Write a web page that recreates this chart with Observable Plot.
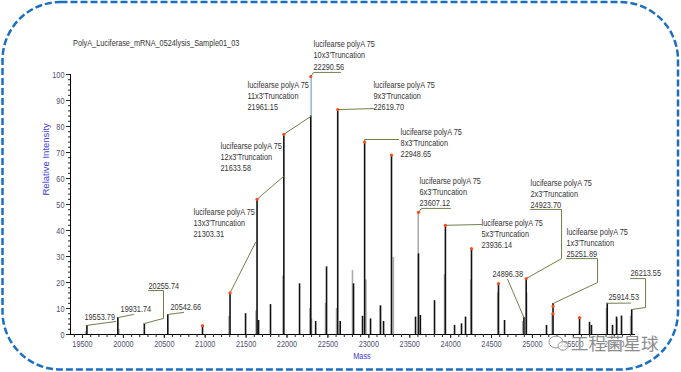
<!DOCTYPE html>
<html><head><meta charset="utf-8">
<script src="https://cdn.jsdelivr.net/npm/d3@7"></script>
<script src="https://cdn.jsdelivr.net/npm/@observablehq/plot@0.6"></script>
<style>
html,body{margin:0;padding:0;background:#fff;}
#wrap{position:relative;width:681px;height:372px;overflow:hidden;background:#fff;}
#wrap svg.border{position:absolute;left:0;top:0;pointer-events:none;}
#title{position:absolute;left:73px;top:37px;font:9.5px "Liberation Sans",Arial,sans-serif;color:#333;white-space:nowrap;transform:scaleX(0.77);transform-origin:0 50%;}
#wm{position:absolute;left:571px;top:330px;font:17.5px "Noto Sans CJK SC",sans-serif;color:#8c8c8c;text-shadow:0 0 1px #fff,0 0 2px #fff;white-space:nowrap;}
</style>
</head><body>
<div id="wrap"></div>
<script>
const FONT = '"Liberation Sans",Arial,sans-serif';
const SQUEEZE = 0.77; // the reference uses a condensed rendering of its sans font

// Chart texts
const chartTitle = "PolyA_Luciferase_mRNA_0524lysis_Sample01_03";
const xAxisLabel = "Mass";
const yAxisLabel = "Relative Intensity";
const watermark = "工程菌星球";

// Axis ticks
const xMajorTicks = [19500, 20000, 20500, 21000, 21500, 22000, 22500, 23000, 23500, 24000, 24500, 25000, 25500, 26000];
const yMajorTicks = [0, 10, 20, 30, 40, 50, 60, 70, 80, 90, 100];

// Deconvoluted spectrum: main (black) sticks
const peakMass = [19553.79, 19931.74, 20255.74, 20542.66, 20967, 21303.31, 21493, 21633.58, 21652, 21798,
  21961.15, 22153, 22290.56, 22350, 22483, 22619.70, 22650, 22813, 22923, 22948.65, 23021, 23143, 23180,
  23277, 23571, 23607.12, 23630, 23803, 23936.14, 24048, 24133, 24182, 24255, 24585, 24659, 24896.38,
  24923.70, 25172, 25251.89, 25576, 25698, 25722, 25914.53, 25979, 26028, 26089, 26213.55];
const peakIntensity = [3.5, 6.5, 4.2, 7.7, 3.4, 16, 8, 52, 5.4, 11.5,
  77, 19.5, 99.2, 5, 26, 86.5, 5, 19.5, 7, 74, 6, 11, 5,
  69, 6.7, 31, 7.3, 13, 42, 3.5, 4.1, 6.7, 33, 19.6, 5.4, 6.5,
  21.5, 3.5, 11.9, 6.5, 4.7, 3.5, 12, 3.5, 6.7, 7.1, 9.6];

// Second (grey) trace
const greyMass = [19540, 19945, 21290, 21620, 21950, 22278, 22300, 22470, 22605, 22800, 22965, 23140, 23300,
  23604, 23925, 24245, 24575, 24880, 24930, 25240, 25905, 26035, 26200];
const greyIntensity = [1.2, 2, 7, 9, 22.5, 10, 6, 12, 10, 24.6, 21, 11, 29.7,
  47, 23, 21, 16, 5, 16, 8, 10, 6, 7];

// Highlighted top of base peak
const highlightMass = [22290.56];
const highlightLow = [84];
const highlightHigh = [99.2];

// Orange peak markers
const markerMass = [20967, 21303.31, 21633.58, 21961.15, 22290.56, 22619.70, 22948.65, 23277, 23607.12,
  23936.14, 24255, 24585, 24923.70, 25251.89, 25251.89, 25576];
const markerIntensity = [3.4, 16, 52, 77, 99.2, 86.5, 74, 69, 47, 42, 33, 19.6, 21.5, 10.8, 8, 6.5];

// Annotated peaks
const calloutMass = [19553.79, 19931.74, 20255.74, 20542.66, 21303.31, 21633.58, 21961.15, 22290.56,
  22619.70, 22948.65, 23607.12, 23936.14, 24896.38, 24923.70, 25251.89, 25914.53, 26213.55];
const calloutTop = [3.5, 6.5, 4.2, 7.7, 16, 52, 77, 99.2, 86.5, 74, 47, 42, 6.5, 21.5, 11.9, 12, 9.6];
const calloutSpecies = ["", "", "", "", "13x3'Truncation", "12x3'Truncation", "11x3'Truncation",
  "10x3'Truncation", "9x3'Truncation", "8x3'Truncation", "6x3'Truncation", "5x3'Truncation", "",
  "2x3'Truncation", "1x3'Truncation", "", ""];
const calloutMassText = ["19553.79", "19931.74", "20255.74", "20542.66", "21303.31", "21633.58", "21961.15",
  "22290.56", "22619.70", "22948.65", "23607.12", "23936.14", "24896.38", "24923.70", "25251.89",
  "25914.53", "26213.55"];
const calloutName = "lucifearse polyA 75";
// label placement (mass, intensity of text top) and leader bends
const calloutTextAt = [[19524, 8.6], [19965, 11.7], [20307, 20.6], [20576, 12.5], [20857, 49.0],
  [21187, 74.4], [21517, 97.9], [22324, 113.5], [23057, 97.9], [23388, 79.8], [23620, 61.0],
  [24378, 44.8], [24512, 25.2], [24977, 60.2], [25417, 41.3], [25930, 16.3], [26199, 25.6]];
const calloutBends = [
  [[19904, 5.0]],
  [[20123, 7.7]],
  [[20490, 6.2], [20490, 16.9], [20307, 16.9]],
  [[20735, 8.5]],
  [[21615, 35.4]],
  [[21957, 60.8]],
  [[22287, 83.8]],
  [[22324, 100.8], [22654, 100.8]],
  [[23057, 86.9]],
  [[22948.65, 75], [23363, 75]],
  [[23644, 48.5], [23999, 48.5]],
  [[24378, 42.3]],
  [[24697, 21.2]],
  [[25356, 29.2], [25356, 48.1], [24977, 48.1]],
  [[25796, 20], [25796, 29.2], [25417, 29.2]],
  [[26199, 12.1]],
  [[26383, 10.4], [26383, 21.5], [26199, 21.5]]
];

// ---- build tables ----
const peaks = peakMass.map((m, i) => ({mass: m, intensity: peakIntensity[i]}));
const greys = greyMass.map((m, i) => ({mass: m, intensity: greyIntensity[i]}));
const highlights = highlightMass.map((m, i) => ({mass: m, lo: highlightLow[i], hi: highlightHigh[i]}));
const markers = markerMass.map((m, i) => ({mass: m, intensity: markerIntensity[i]}));
const labels = calloutMass.map((m, i) => ({
  x: calloutTextAt[i][0], y: calloutTextAt[i][1],
  text: calloutSpecies[i] ? [calloutName, calloutSpecies[i], calloutMassText[i]].join("\n") : calloutMassText[i]
}));
const leaders = calloutMass.flatMap((m, i) =>
  [[m, calloutTop[i]], ...calloutBends[i]].map(([x, y]) => ({id: i, x, y})));

const xMinor = d3.range(19400, 26201, 100);
const yMinor = d3.range(0, 101, 2);

const chart = Plot.plot({
  width: 681, height: 372,
  marginLeft: 70, marginRight: 46, marginTop: 74, marginBottom: 38,
  style: {fontFamily: FONT, fontSize: "9.5px", background: "transparent", overflow: "visible"},
  x: {domain: [19353, 26260]},
  y: {domain: [0, 100]},
  marks: [
    Plot.ruleX(greys, {x: "mass", y1: 0, y2: "intensity", stroke: "#a9a9a9", strokeWidth: 1.5}),
    Plot.ruleX(peaks, {x: "mass", y1: 0, y2: "intensity", stroke: "#111", strokeWidth: 1.6}),
    Plot.ruleX(highlights, {x: "mass", y1: "lo", y2: "hi", stroke: "#bcd6ee", strokeWidth: 1.8}),
    Plot.line(leaders, {x: "x", y: "y", z: "id", stroke: "#6f7f4a", strokeWidth: 1}),
    Plot.dot(markers, {x: "mass", y: "intensity", r: 1.6, fill: "#ff4b14", stroke: null}),
    Plot.text(labels, {x: "x", y: "y", text: "text", textAnchor: "start", lineAnchor: "top",
      lineHeight: 1.17, fontSize: 9.5, fill: "#333"}),
    Plot.ruleY([0], {stroke: "#000"}),
    Plot.ruleX([19353], {stroke: "#000"}),
    Plot.axisX({ticks: xMinor, tickSize: 3, tickFormat: () => "", label: null, stroke: "#222"}),
    Plot.axisX({ticks: xMajorTicks, tickSize: 4, tickPadding: 2, tickFormat: "d", label: null,
      stroke: "#222", fill: "#50506e"}),
    Plot.axisY({ticks: yMinor, tickSize: 2, tickFormat: () => "", label: null, stroke: "#222"}),
    Plot.axisY({ticks: yMajorTicks, tickSize: 4, tickPadding: 2, tickFormat: "d", label: null,
      stroke: "#222", fill: "#50506e"}),
    Plot.text([yAxisLabel], {frameAnchor: "left", rotate: -90, dx: -25, dy: -9, fill: "#3d3dd6", fontSize: 9.5}),
    Plot.text([xAxisLabel], {frameAnchor: "bottom", dx: 9, dy: 24, fill: "#3d3dd6", fontSize: 9.5})
  ]
});

// condense the label glyphs horizontally like the reference's narrow font
chart.querySelectorAll("text").forEach(t => {
  if (t.textContent === yAxisLabel) return;
  const tr = t.getAttribute("transform");
  if (tr) t.setAttribute("transform", tr + ` scale(${SQUEEZE},1)`);
});

const wrap = document.getElementById("wrap");
wrap.appendChild(chart);

const title = document.createElement("div");
title.id = "title"; title.textContent = chartTitle;
wrap.appendChild(title);

const wm = document.createElement("div");
wm.id = "wm"; wm.textContent = watermark;
wrap.appendChild(wm);

const ns = "http://www.w3.org/2000/svg";
const b = document.createElementNS(ns, "svg");
b.setAttribute("class", "border");
b.setAttribute("width", 681); b.setAttribute("height", 372);
const r = document.createElementNS(ns, "rect");
r.setAttribute("x", 2.5); r.setAttribute("y", 2); r.setAttribute("width", 675.5); r.setAttribute("height", 367.5);
r.setAttribute("rx", 58); r.setAttribute("ry", 58);
r.setAttribute("fill", "none"); r.setAttribute("stroke", "#1b6fc3");
r.setAttribute("stroke-width", 2.5); r.setAttribute("stroke-dasharray", "7 3");
b.appendChild(r);
// small chat-bubble logo in front of the watermark
[[556, 342, 7], [563, 346, 5]].forEach(([cx, cy, rr]) => {
  const c = document.createElementNS(ns, "ellipse");
  c.setAttribute("cx", cx); c.setAttribute("cy", cy); c.setAttribute("rx", rr); c.setAttribute("ry", rr * 0.85);
  c.setAttribute("fill", "rgba(255,255,255,0.6)"); c.setAttribute("stroke", "#999"); c.setAttribute("stroke-width", 1);
  b.appendChild(c);
});
wrap.appendChild(b);
</script>
</body></html>
